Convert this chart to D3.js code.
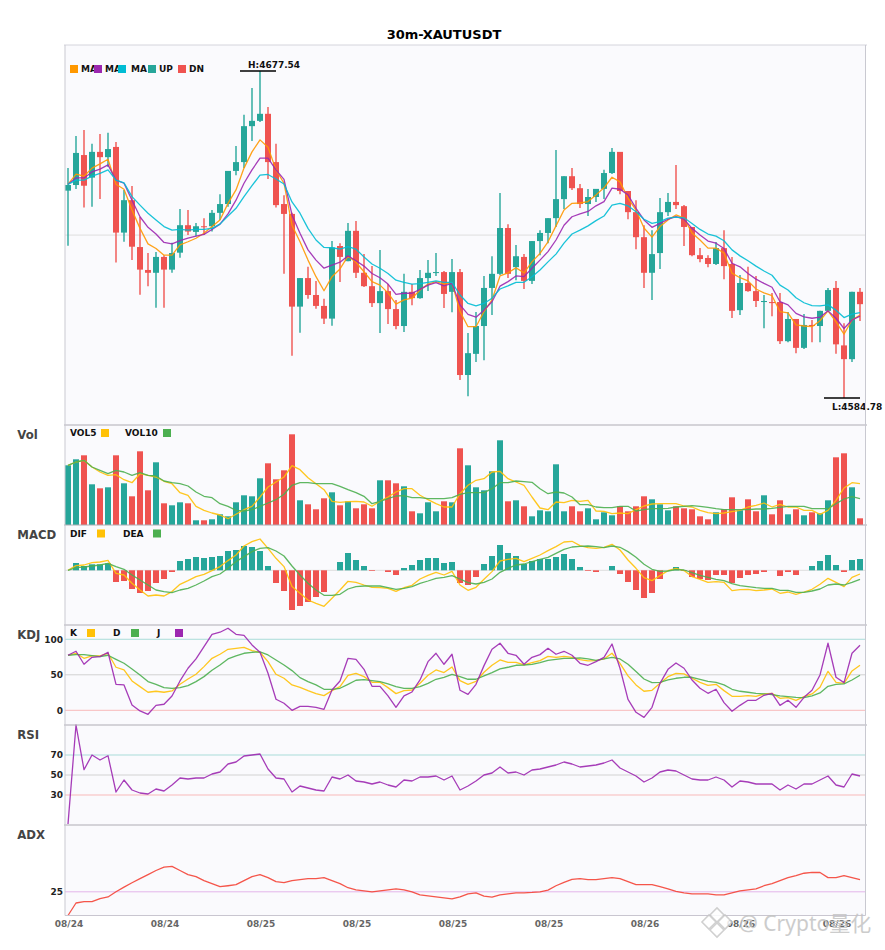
<!DOCTYPE html>
<html>
<head>
<meta charset="utf-8">
<title>30m-XAUTUSDT</title>
<script src="https://cdn.jsdelivr.net/npm/d3@7/dist/d3.min.js"></script>
<style>
  body { margin: 0; background: #fff; }
  text { font-family: "DejaVu Sans", sans-serif; }
</style>
</head>
<body>
<div id="chart"></div>
<script>
const opens = [
  4643.6,4645.2,4653.7,4647.3,4654.6,4653.1,4656.0,4631.7,4640.9,4627.6,
  4621.1,4620.3,4624.8,4621.2,4626.0,4633.8,4631.9,4633.5,4633.5,4637.3,
  4639.8,4649.2,4651.7,4661.9,4663.4,4665.4,4651.7,4639.8,4637.0,4610.7,
  4618.8,4614.0,4610.9,4607.3,4627.9,4623.6,4632.2,4620.3,4616.5,4611.7,
  4615.1,4610.0,4605.2,4614.9,4613.1,4618.8,4620.3,4620.5,4614.9,4620.5,
  4591.3,4597.3,4605.2,4616.0,4620.0,4633.0,4621.9,4624.8,4618.0,4629.3,
  4631.6,4635.8,4641.2,4647.7,4644.3,4639.8,4641.8,4644.1,4648.6,4654.6,
  4643.5,4637.5,4630.4,4620.3,4625.9,4637.5,4640.4,4639.2,4633.3,4625.3,
  4624.5,4622.8,4627.3,4622.8,4609.7,4617.4,4615.1,4612.0,4612.0,4612.0,
  4600.9,4607.2,4599.0,4605.5,4605.2,4609.5,4616.0,4599.7,4595.8,4614.9];
const closes = [
  4645.2,4654.3,4645.0,4654.6,4653.1,4655.4,4631.7,4640.9,4627.7,4621.2,
  4620.3,4624.8,4621.2,4625.9,4633.8,4632.0,4633.5,4633.3,4637.3,4639.8,
  4649.2,4651.7,4661.9,4663.4,4665.4,4651.7,4639.5,4637.0,4610.7,4618.8,
  4614.0,4610.9,4607.3,4627.5,4624.8,4632.2,4620.3,4616.5,4611.7,4615.1,
  4610.0,4605.2,4614.9,4613.1,4618.8,4620.3,4620.5,4614.3,4620.5,4591.3,
  4597.5,4605.2,4616.0,4620.0,4633.0,4620.0,4625.0,4618.0,4629.3,4631.6,
  4635.8,4641.2,4647.7,4644.3,4639.8,4641.8,4644.1,4648.6,4654.6,4643.5,
  4637.5,4630.4,4620.3,4625.6,4637.5,4640.4,4639.5,4633.3,4625.3,4624.2,
  4622.8,4627.3,4622.2,4609.5,4617.4,4615.1,4612.3,4612.3,4611.7,4600.9,
  4607.2,4599.0,4605.5,4605.2,4609.5,4615.4,4600.0,4595.8,4614.9,4611.4];
const highs = [
  4650.0,4659.1,4660.8,4656.9,4659.7,4660.0,4657.4,4643.8,4644.9,4636.1,
  4625.9,4626.2,4625.3,4628.8,4638.4,4638.1,4634.4,4635.8,4638.1,4642.6,
  4649.2,4656.3,4665.1,4672.7,4677.54,4667.3,4656.9,4642.3,4637.3,4618.8,
  4622.0,4618.0,4612.9,4629.3,4628.7,4634.4,4635.0,4625.6,4622.2,4626.8,
  4617.1,4612.6,4620.0,4617.1,4621.1,4623.9,4625.9,4620.8,4624.2,4621.4,
  4603.2,4609.2,4619.4,4625.0,4642.9,4634.1,4628.2,4625.6,4629.3,4632.4,
  4635.8,4655.1,4647.7,4650.0,4645.5,4644.1,4644.1,4649.5,4655.7,4654.6,
  4643.5,4640.9,4633.8,4632.4,4641.5,4642.9,4650.9,4639.5,4633.3,4627.3,
  4625.3,4629.0,4632.4,4624.8,4619.7,4622.0,4619.4,4614.0,4614.6,4614.6,
  4609.2,4607.2,4608.6,4606.9,4609.5,4616.0,4618.0,4606.0,4614.9,4616.0];
const lows = [
  4628.0,4644.1,4638.8,4639.0,4641.2,4650.3,4623.2,4629.1,4623.9,4614.1,
  4616.5,4610.4,4610.4,4620.3,4624.6,4631.0,4630.7,4631.0,4632.0,4635.3,
  4639.0,4648.0,4650.0,4657.7,4663.1,4646.9,4638.8,4620.0,4596.8,4603.3,
  4612.9,4610.1,4605.8,4605.3,4617.7,4623.6,4618.8,4616.3,4610.6,4603.2,
  4605.8,4604.3,4603.5,4611.1,4612.9,4615.1,4619.4,4610.3,4609.1,4589.9,
  4585.3,4595.0,4595.5,4608.3,4619.7,4618.8,4618.2,4615.7,4617.1,4625.3,
  4628.7,4633.3,4638.4,4643.8,4638.7,4636.4,4640.4,4641.2,4648.3,4642.6,
  4635.5,4627.0,4616.0,4612.6,4621.4,4636.4,4638.4,4627.9,4625.0,4623.3,
  4621.9,4622.5,4618.5,4607.5,4608.3,4614.9,4610.6,4604.6,4608.0,4600.1,
  4600.6,4597.5,4598.7,4600.6,4600.6,4609.5,4597.3,4584.78,4595.0,4606.6];

const ma5 = [
  4645.4,4648.3,4647.7,4650.0,4651.2,4652.5,4645.4,4644.0,4638.1,4632.9,
  4628.5,4627.2,4625.3,4625.3,4628.2,4629.1,4630.1,4631.5,4633.4,4635.3,
  4640.0,4643.8,4650.0,4654.6,4658.0,4655.9,4649.5,4645.7,4633.8,4629.1,
  4623.9,4619.2,4615.2,4619.2,4621.4,4625.0,4623.3,4620.6,4617.8,4616.8,
  4614.6,4611.4,4612.6,4613.1,4615.4,4617.1,4617.8,4617.1,4617.5,4609.3,
  4605.0,4605.0,4609.3,4612.6,4619.4,4620.3,4621.7,4620.3,4623.4,4625.8,
  4629.1,4633.6,4638.1,4640.0,4640.1,4640.5,4642.4,4644.4,4647.4,4646.1,
  4641.5,4638.1,4633.0,4630.4,4633.4,4635.3,4636.7,4635.8,4631.6,4629.6,
  4627.3,4627.3,4625.9,4620.2,4618.9,4618.0,4615.7,4614.6,4613.8,4609.3,
  4608.9,4605.5,4605.2,4605.0,4606.7,4609.5,4606.4,4602.9,4606.9,4608.3];
const ma10 = [
  4645.4,4647.2,4647.2,4648.9,4649.7,4650.9,4646.6,4645.7,4640.9,4636.2,
  4633.2,4631.3,4628.9,4628.5,4629.4,4630.1,4630.7,4631.2,4632.6,4634.1,
  4637.0,4640.9,4645.7,4649.5,4652.8,4652.8,4649.5,4646.8,4636.7,4631.5,
  4626.8,4623.9,4621.6,4622.5,4623.3,4625.1,4623.7,4622.2,4620.1,4618.9,
  4617.1,4614.2,4614.5,4614.5,4615.6,4616.8,4617.5,4616.6,4617.3,4611.2,
  4608.5,4607.7,4609.7,4612.1,4616.5,4617.8,4619.4,4619.2,4621.6,4623.9,
  4626.3,4629.6,4633.8,4636.2,4637.0,4637.7,4639.3,4640.5,4644.3,4644.0,
  4642.4,4638.6,4635.3,4633.2,4634.3,4635.5,4636.2,4635.5,4632.9,4631.0,
  4629.3,4628.7,4627.2,4623.0,4622.0,4620.1,4618.5,4617.3,4616.2,4612.1,
  4611.2,4608.8,4607.8,4607.4,4607.7,4609.5,4607.4,4604.5,4606.9,4608.0];
const ma20 = [
  4645.4,4646.6,4646.6,4647.7,4648.5,4649.5,4646.6,4645.8,4641.9,4639.5,
  4637.2,4635.3,4633.4,4632.4,4632.6,4632.4,4632.6,4632.6,4632.9,4634.1,
  4636.4,4638.6,4641.9,4645.0,4648.0,4648.2,4646.9,4645.5,4640.4,4637.2,
  4632.9,4629.6,4627.5,4627.4,4627.0,4627.7,4627.0,4624.8,4622.8,4621.6,
  4620.1,4618.2,4617.6,4617.1,4617.2,4617.6,4618.0,4617.6,4617.6,4614.0,
  4611.6,4610.9,4611.6,4613.1,4615.7,4616.6,4617.6,4617.6,4619.2,4621.1,
  4623.4,4625.6,4628.7,4631.3,4632.4,4633.6,4635.1,4636.4,4639.5,4640.0,
  4639.3,4637.6,4635.5,4634.3,4634.8,4635.8,4636.1,4635.9,4634.3,4632.6,
  4631.3,4630.7,4629.4,4626.8,4625.1,4623.7,4622.2,4620.8,4619.6,4616.8,
  4615.4,4613.2,4611.8,4611.0,4610.9,4611.2,4609.7,4607.6,4608.6,4609.0];

const volumes = [
  59.7,65.7,69.7,40.7,36.7,37.7,69.7,41.7,28.7,73.7,
  34.7,62.7,21.7,19.7,22.7,21.7,4.7,4.7,5.7,10.7,
  8.7,22.7,29.7,28.7,46.7,61.7,45.7,54.7,90.7,24.7,
  20.7,15.7,26.7,32.7,19.7,23.7,16.7,20.7,16.7,44.7,
  44.7,41.7,38.7,13.7,11.7,22.7,13.7,23.7,22.7,76.7,
  59.7,37.7,34.7,53.7,84.7,23.7,24.7,18.7,8.7,14.7,
  13.7,60.7,13.7,18.7,13.7,16.7,5.7,12.7,9.7,18.7,
  13.7,18.7,28.7,25.7,20.7,14.7,18.7,16.7,15.7,8.7,
  5.7,12.7,15.7,27.7,14.7,25.7,13.7,29.7,10.7,24.7,
  10.7,15.7,9.7,12.7,11.7,24.7,67.7,71.7,37.7,6.7];
const vol5 = [
  59.7,63,64.7,58,53,49.7,50.3,45.3,42.3,51.3,
  49.7,48,43.7,41.3,32.3,29.7,18.7,14.7,12,10,
  6.3,10.7,15.3,18.7,28,38,43,48,59.3,55.3,
  47.3,41.3,35.3,23.7,22.7,23.3,23.7,23,18.7,23.7,
  28,33,36.3,36.3,29.7,25.3,21.3,18,18,31.3,
  39.7,44.7,46.3,53,53.7,46.3,43,39.7,28,17,
  15.3,23,22.3,24.7,23.7,24.7,14,13.7,11.3,12,
  11.3,15.3,19,21,21.3,21.3,21.3,19,18,14.7,
  12.3,11.3,12,13.3,14.7,18,19.7,22,18,20.7,
  18,18,14.7,14.7,10.7,14.7,24.7,37,42.3,41.3];
const vol10 = [
  59.7,63,64.7,58,54.7,51.3,54.7,53,49.7,52.3,
  49.7,49,44,42.3,41.3,39,33,28.7,27.3,21.3,
  18.7,14.7,14,15.3,18.7,22,25.3,30.7,39.7,42.3,
  42.3,41.3,41.3,41.3,38.7,35.3,32.3,28.7,21.3,23.7,
  26.3,29,29.3,27.3,27.3,26.3,26.3,26.3,27.3,30.7,
  32.3,32.3,32.3,36.3,42.3,42.3,44,43.3,42.7,36.3,
  31.3,33,32,28,20.3,20.3,18,17.3,17.3,18.7,
  18.7,14,15.3,16.3,16.3,16.7,18,18.7,19.3,18.7,
  17.7,16.3,15.3,15.3,15.3,15.3,16,16,16.7,17.7,
  18.7,18.7,18.7,16.3,16.3,16.3,21.3,26,28.3,26.3];

const macdHist = [
  0,7.3,4.3,6,6,7,-11.7,-10.7,-18.7,-22.7,
  -20.7,-12.7,-8.7,-1.7,9.3,11.3,13.3,12.3,13.3,14.3,
  19.3,20.3,24.3,23.3,19.3,4.3,-12.7,-20.7,-39.7,-35.7,
  -31.7,-26.7,-21.7,0,8.3,17.3,10.3,4.3,-0.7,0,
  -1.7,-4.7,2.3,5.3,10.3,12.3,12.3,7.3,8.3,-12.7,
  -14.7,-6.7,6.3,14.3,25.3,17.3,14.3,6.3,9.3,11.3,
  11.3,13.3,16.3,11.3,3.3,-0.7,-1.7,0,4.3,-3.7,
  -11.7,-19.7,-27.7,-22.7,-8.7,0,3.3,-0.7,-6.7,-8.7,
  -9.7,-4.7,-4.7,-12.7,-7.7,-4.7,-3.7,-1.7,0,-5.7,
  -1.7,-4.7,0,4.3,9.3,15.3,5.3,-1.7,10.3,11.3];
const dif = [
  0,4.7,5.3,7.7,8.3,10,-3,-4.7,-13,-19.7,
  -25.7,-24.7,-25.7,-21.3,-14,-10.3,-6.3,-4,-0.3,3.7,
  9.7,15.3,24.3,28.7,31.3,22,12,3.7,-16.3,-23,
  -29.7,-33,-36,-28,-19.7,-11,-12,-14.7,-17,-17.3,
  -18,-21,-17.3,-15,-8.7,-5,-2,-4.7,-1,-14.7,
  -20,-17,-9,-1.3,9.3,11,12,8.7,12,15.3,
  19.7,23.7,28.3,29,24.7,22.7,22,23,26,20.3,
  10.3,2,-7.3,-10.3,-5.3,-0.3,2,-0.3,-6.3,-9,
  -12,-11.3,-12,-20.3,-19.3,-19,-20.3,-19.7,-18.7,-23,
  -21.7,-24,-21.7,-19,-14,-8,-12,-16.3,-7,-3.7];
const dea = [
  0,2.7,3.3,4.3,5.3,7,3.7,1,-4.7,-9.7,
  -14.7,-19.7,-21.3,-22.3,-19.7,-18,-14.7,-10.7,-6.3,-3.7,
  2,8.7,13.7,18.7,22,22.7,19.3,14.3,4.3,-4.7,
  -13,-19.7,-25,-25,-24,-18.7,-16.3,-15.7,-15.7,-15.7,
  -17.3,-19,-18,-16.3,-13,-10.7,-8,-7,-5.3,-8.7,
  -12.3,-13.7,-12,-8.7,-2,2,5.3,6.3,8.7,11,
  13,17,21,23.3,24,24.3,23.7,22.7,24.3,23,
  18.7,13,6,1,-1,-0.7,0.7,0.3,-2.3,-5,
  -7,-9,-10.3,-13.3,-15.3,-16.3,-17.3,-18,-18,-20,
  -20,-22,-22,-20.7,-18.7,-14.7,-13.7,-14.7,-12,-9];

const kdjK = [
  77.5,80.3,73.2,76.5,76.5,80.3,60.6,56.8,41.3,33.3,
  25.4,26.8,25.4,27.2,36.6,44.1,50.7,61.5,73.2,78.9,
  85.9,87.3,88.7,84,81.7,68.5,50.7,45.1,35.7,32.4,
  27.7,23.5,20.7,27.7,33.3,49.3,52.1,47.4,39.4,39.4,
  31.9,23.5,27.7,28.6,38,49.3,56.8,53.1,61,41.8,
  36.6,40.8,53.5,63.4,70.9,67.6,67.6,63.8,67.1,70,
  76,74.6,76,74.6,71.4,69.5,70,72.3,80.3,66.2,
  48.4,35.7,26.8,28.2,38,47.4,52.1,51.2,45.1,39.4,
  35.2,36.6,27.7,19.7,19.7,20.7,19.7,23,23.9,16.9,
  17.8,14.1,19.2,23,32.4,54.9,39.4,38,55.4,63.4];
const kdjD = [
  77.5,78.4,78.4,77,75.6,77.5,71.8,66.2,58.2,49.8,
  40.4,36.6,31.9,31,31.9,34.7,40.4,47.4,56.3,63.8,
  72.3,76.5,80.3,81.7,82.2,77.9,70.9,63.8,55.9,46,
  40.4,35.7,29.6,29.6,31,36.6,42.3,43.2,41.8,40.4,
  37.1,33.3,31,31,33.3,38,43.7,46.5,50.7,47.4,
  43.7,43.7,48.4,53,58.2,60.6,63.4,63.8,64.8,67.1,
  70.4,71.8,73.2,73.2,73.7,72.3,70.4,72.3,74.6,72.3,
  64.8,54.5,44.1,39,39.4,42.7,45.1,46.5,46.5,43.7,
  40.8,39.4,35.7,29.6,26.8,25.4,23.9,23,22.1,20.2,
  19.2,18.3,17.8,20.2,24.4,33.8,36.6,37.1,42.7,49.3];
const kdjJ = [
  77.5,83.1,64.8,74.6,75.6,81.7,36.6,35.7,7.5,-0.9,
  -5.6,7,8.5,20.2,41.3,59.2,72.3,89.7,107,109.9,
  115.5,107,105.6,92,81.7,52.1,15.5,9.9,0,5.6,
  5.6,4.2,1.4,28.6,41.3,73.2,71.8,57.7,33.8,33.8,
  20.2,4.2,20.2,25.8,42.7,68.5,80.3,64.8,78.9,28.2,
  22.5,36.6,62.9,85.9,94.4,80.3,77.5,64.8,74.6,78.4,
  87.3,78.9,83.1,77.5,66.2,63.4,68.5,74.6,93.4,59.2,
  15.5,-2.8,-9.9,4.2,38,57.7,66.7,59.2,42.7,31,
  23.9,29.6,10.8,-1.4,7,14.1,14.1,21.1,23.9,7,
  14.1,4.2,18.3,28.2,49.8,94.4,46.5,39,80.3,91.5];

const rsi = [
  1,100,55.3,70,65,69.3,33,45,35,32,
  31,36,34,40,47,46,47,47,51,53,
  61,63,69,70,71,56,47,46,33,39,
  37,35,34,48,46,50,44,43,41,43,
  40,38,45,44,48,48,49,45,49,35,
  39,44,50,52,58,52,53,50,55,56,
  58,60,63,61,58,59,60,62,65,57,
  53,49,43,47,53,55,54,50,46,45,
  45,48,45,38,44,43,41,41,41,35,
  40,36,41,41,45,49,40,38,51,49];

const adx = [
  0,13.2,14.6,14.6,17.9,19.6,25,30,34.6,38.9,
  43.2,47.5,51,51.8,47.5,43.2,41,36.8,33.6,30.4,
  31.4,32.5,36.8,41,43.2,40,35.7,34.6,36.8,37.9,
  38.9,38.9,40,36.8,33.6,29.3,27.1,26,25,26,
  27.1,28.2,27.1,25,21.8,20.7,19.6,18.6,17.5,19.6,
  22.9,23.9,20.4,19.3,21.8,22.9,23.9,23.9,24.3,25,
  26.8,31.4,35,38.2,38.9,37.9,37.9,38.9,40,38.9,
  35.7,32.5,32.5,32.5,30.4,28.2,25.4,23.9,22.9,22.9,
  22.9,21.8,21.8,23.9,26,27.1,28.2,31.4,33.6,36.8,
  40,42.1,44.6,45.4,45.4,40,40,42.1,40,37.9];

const dateLabels = ["08/24","08/24","08/25","08/25","08/25","08/25","08/26","08/26","08/26"];
const labelStep = 12;
const highPrice = 4677.54;
const lowPrice = 4584.78;
const midPrice = 4631;

const UP = "#26a69a", DOWN = "#ef5350";
const YELLOW = "#ffc107", GREEN = "#4caf50", PURPLE = "#9c27b0", ORANGE = "#ff9800", CYAN = "#00bcd4";
const TEAL_LINE = "#a9dcd9", GRAY_LINE = "#d2d2d2", PINK_LINE = "#f8b9b9", PLUM_LINE = "#e3b6ea";

const width = 885, height = 950;
const left = 65, right = 865.5;

const svg = d3.select("#chart").append("svg")
  .attr("width", width)
  .attr("height", height)
  .style("display", "block");

svg.append("text")
  .attr("x", 444).attr("y", 39)
  .attr("text-anchor", "middle")
  .attr("font-size", 13).attr("font-weight", "bold")
  .text("30m-XAUTUSDT");

const x = d3.scaleBand().domain(d3.range(opens.length)).range([64, 864]).paddingInner(0.25).paddingOuter(0.125);
const cx = i => x(i) + x.bandwidth() / 2;
const isUp = i => closes[i] >= opens[i];

// Panels, top to bottom
const panels = {
  main: { top: 45, bottom: 425, domain: [4577.12, 4684.92] },
  vol:  { top: 425, bottom: 525, domain: [0, 100], title: "Vol" },
  macd: { top: 525, bottom: 625, domain: [-54.7, 45.3], title: "MACD" },
  kdj:  { top: 625, bottom: 725, domain: [-20.7, 120.1], title: "KDJ" },
  rsi:  { top: 725, bottom: 825, domain: [0, 100], title: "RSI" },
  adx:  { top: 825, bottom: 915.5, domain: [0, 95.5], title: "ADX" }
};

const bg = svg.append("g");
const grids = svg.append("g");
const marks = svg.append("g");
const overlay = svg.append("g");

Object.values(panels).forEach(p => {
  p.y = d3.scaleLinear().domain(p.domain).range([p.bottom, p.top]);
  bg.append("rect")
    .attr("x", left).attr("y", p.top)
    .attr("width", right - left).attr("height", p.bottom - p.top)
    .attr("fill", "#fafafd");
  if (p.title) {
    overlay.append("text")
      .attr("x", 17.3).attr("y", p.top + 14.3)
      .attr("font-size", 11.7).attr("font-weight", "bold").attr("fill", "#444")
      .text(p.title);
  }
});

// Grid lines and value labels
const gridLine = (p, value, color) => {
  grids.append("line")
    .attr("x1", left).attr("x2", right)
    .attr("y1", p.y(value)).attr("y2", p.y(value))
    .attr("stroke", color).attr("stroke-width", 1);
};
gridLine(panels.main, midPrice, "#dedede");
gridLine(panels.macd, 0, "#dedede");
gridLine(panels.kdj, 100, TEAL_LINE);
gridLine(panels.kdj, 50, GRAY_LINE);
gridLine(panels.kdj, 0, PINK_LINE);
gridLine(panels.rsi, 70, TEAL_LINE);
gridLine(panels.rsi, 50, GRAY_LINE);
gridLine(panels.rsi, 30, PINK_LINE);
gridLine(panels.adx, 25, PLUM_LINE);

const valueAxis = (p, ticks) => {
  const g = overlay.append("g")
    .attr("transform", `translate(${left},0)`)
    .call(d3.axisLeft(p.y).tickValues(ticks).tickSize(0).tickPadding(2));
  g.select(".domain").remove();
  g.selectAll("text")
    .attr("font-family", "DejaVu Sans").attr("font-size", 9)
    .attr("font-weight", "bold").attr("fill", "#222");
};
valueAxis(panels.kdj, [0, 50, 100]);
valueAxis(panels.rsi, [30, 50, 70]);
valueAxis(panels.adx, [25]);

const xAxis = overlay.append("g")
  .attr("transform", `translate(1,${panels.adx.bottom})`)
  .call(d3.axisBottom(x)
    .tickValues(dateLabels.map((d, i) => i * labelStep))
    .tickFormat(i => dateLabels[i / labelStep])
    .tickSize(0).tickPadding(5));
xAxis.select(".domain").remove();
xAxis.selectAll("text")
  .attr("font-family", "DejaVu Sans").attr("font-size", 9)
  .attr("font-weight", "bold").attr("fill", "#666");

// Candles
const py = panels.main.y;
marks.append("g").selectAll("line")
  .data(d3.range(opens.length))
  .join("line")
  .attr("x1", cx).attr("x2", cx)
  .attr("y1", i => py(highs[i])).attr("y2", i => py(lows[i]))
  .attr("stroke", i => isUp(i) ? UP : DOWN)
  .attr("stroke-width", 1.4);
marks.append("g").selectAll("rect")
  .data(d3.range(opens.length))
  .join("rect")
  .attr("x", i => x(i))
  .attr("width", x.bandwidth())
  .attr("y", i => py(Math.max(opens[i], closes[i])))
  .attr("height", i => Math.max(1, Math.abs(py(opens[i]) - py(closes[i]))))
  .attr("fill", i => isUp(i) ? UP : DOWN);

const drawLine = (p, values, color, w = 1.3) => {
  const line = d3.line().x((d, i) => cx(i)).y(d => p.y(d));
  return marks.append("path")
    .attr("d", line(values))
    .attr("fill", "none")
    .attr("stroke", color)
    .attr("stroke-width", w)
    .attr("stroke-linejoin", "round")
    .attr("opacity", 0.9);
};
drawLine(panels.main, ma5, ORANGE);
drawLine(panels.main, ma10, PURPLE);
drawLine(panels.main, ma20, CYAN);

// Volume
const vy = panels.vol.y;
marks.append("g").selectAll("rect")
  .data(volumes)
  .join("rect")
  .attr("x", (d, i) => x(i))
  .attr("width", x.bandwidth())
  .attr("y", d => vy(d))
  .attr("height", d => vy(0) - vy(d))
  .attr("fill", (d, i) => isUp(i) ? UP : DOWN);
drawLine(panels.vol, vol5, YELLOW);
drawLine(panels.vol, vol10, GREEN);

// MACD
const my = panels.macd.y;
marks.append("g").selectAll("rect")
  .data(macdHist)
  .join("rect")
  .attr("x", (d, i) => x(i))
  .attr("width", x.bandwidth())
  .attr("y", d => my(Math.max(d, 0)))
  .attr("height", d => Math.abs(my(d) - my(0)))
  .attr("fill", d => d >= 0 ? UP : DOWN);
drawLine(panels.macd, dif, YELLOW);
drawLine(panels.macd, dea, GREEN);

// KDJ, RSI, ADX
drawLine(panels.kdj, kdjK, YELLOW);
drawLine(panels.kdj, kdjD, GREEN);
drawLine(panels.kdj, kdjJ, PURPLE);
drawLine(panels.rsi, rsi, PURPLE);

svg.append("clipPath").attr("id", "adx-clip").append("rect")
  .attr("x", left).attr("y", panels.adx.top)
  .attr("width", right - left).attr("height", panels.adx.bottom - panels.adx.top);
drawLine(panels.adx, adx, "#f44336").attr("clip-path", "url(#adx-clip)");

// Panel borders
const frame = svg.append("g");
Object.values(panels).forEach((p, i) => {
  frame.append("line")
    .attr("x1", left - 1).attr("x2", right + 1.5)
    .attr("y1", p.top).attr("y2", p.top)
    .attr("stroke", i === 0 ? "#d4d4dc" : "#aeacb4");
});
frame.append("line")
  .attr("x1", left).attr("x2", right)
  .attr("y1", panels.adx.bottom).attr("y2", panels.adx.bottom)
  .attr("stroke", "#c9c6d0");
[left, right].forEach(px => {
  frame.append("line")
    .attr("x1", px).attr("x2", px)
    .attr("y1", panels.main.top).attr("y2", panels.adx.bottom)
    .attr("stroke", "#c9c9d1");
});

// Legends: later swatches sit on top of earlier labels, as in the original
const legend = (y, items) => {
  items.forEach(d => {
    const g = overlay.append("g");
    g.append("rect").attr("x", d.sx).attr("y", y - 4).attr("width", 8).attr("height", 8).attr("fill", d.color);
    g.append("text")
      .attr("x", d.tx).attr("y", y + 3.2)
      .attr("font-size", 9).attr("font-weight", "bold").attr("fill", "#111")
      .text(d.label);
  });
};
legend(69, [
  { label: "MA", color: ORANGE, sx: 70, tx: 81 },
  { label: "MA", color: PURPLE, sx: 94, tx: 105 },
  { label: "MA", color: CYAN, sx: 118, tx: 131 },
  { label: "UP", color: UP, sx: 148, tx: 159 },
  { label: "DN", color: DOWN, sx: 178, tx: 189 }
]);
legend(433, [
  { label: "VOL5", color: YELLOW, sx: 101, tx: 70 },
  { label: "VOL10", color: GREEN, sx: 163, tx: 125 }
]);
legend(533.5, [
  { label: "DIF", color: YELLOW, sx: 97, tx: 70 },
  { label: "DEA", color: GREEN, sx: 153, tx: 123 }
]);
legend(633, [
  { label: "K", color: YELLOW, sx: 87, tx: 70 },
  { label: "D", color: GREEN, sx: 131, tx: 113 },
  { label: "J", color: PURPLE, sx: 175, tx: 157 }
]);

// High and low markers
const extreme = (value, i0, i1, dy, label, tx) => {
  overlay.append("line")
    .attr("x1", cx(i0) - 4).attr("x2", cx(i1))
    .attr("y1", py(value)).attr("y2", py(value))
    .attr("stroke", "#000").attr("stroke-width", 1.3);
  overlay.append("text")
    .attr("x", tx).attr("y", py(value) + dy)
    .attr("font-size", 9).attr("font-weight", "bold").attr("fill", "#111")
    .text(label);
};
extreme(highPrice, 22, 26, -3.5, "H:" + highPrice, 248);
extreme(lowPrice, 95, 99, 12, "L:" + lowPrice, 832);

// Watermark
const mark = svg.append("g").attr("opacity", 0.85);
[[717, 915], [709, 922], [725, 922], [717, 930]].forEach(([mx, my2]) => {
  mark.append("rect")
    .attr("x", mx - 5).attr("y", my2 - 5).attr("width", 10).attr("height", 10)
    .attr("transform", `rotate(45 ${mx} ${my2})`)
    .attr("fill", "#fff").attr("stroke", "#c8c8c8").attr("stroke-width", 1.5);
});
mark.append("text")
  .attr("x", 739).attr("y", 931)
  .style("font-family", "'Noto Sans', 'Noto Sans CJK SC', sans-serif")
  .attr("font-size", 21)
  .attr("fill", "#c4c4c4")
  .text("@ Crypto量化");
</script>
</body>
</html>
